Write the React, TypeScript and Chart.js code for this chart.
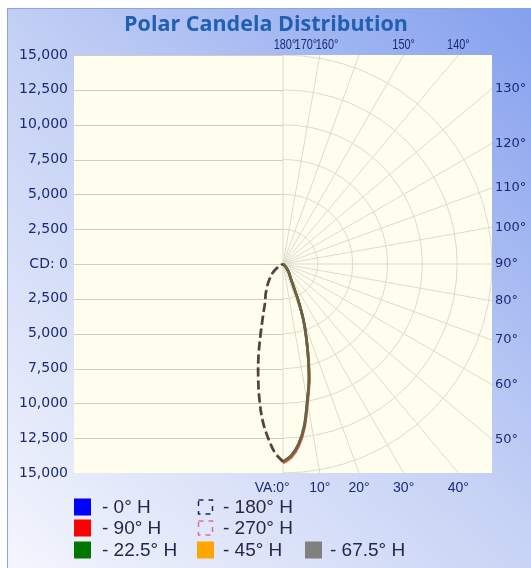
import React, { useEffect, useRef } from 'react';
import { Chart, registerables } from 'chart.js';

Chart.register(...registerables);

// ---- data ----
const chartTitle = 'Polar Candela Distribution';
const verticalAngles = [0, 2.5, 5, 7.5, 10, 12.5, 15, 17.5, 20, 22.5, 25, 27.5, 30, 35, 40, 45, 50, 55, 60, 65, 70];
const cd0H = [14200, 13750, 12950, 11700, 10000, 8600, 7000, 5550, 4300, 2950, 1800, 1250, 1000, 700, 400, 200, 0, 0, 0, 0, 0];
const cd90H = [14300, 13900, 13100, 11850, 10150, 8700, 7100, 5600, 4320, 2960, 1800, 1250, 1000, 700, 400, 200, 0, 0, 0, 0, 0];
const cd22H = [14200, 13760, 12960, 11710, 10020, 8610, 7010, 5560, 4300, 2950, 1800, 1250, 1000, 700, 400, 200, 0, 0, 0, 0, 0];
const cd45H = [14220, 13780, 12980, 11730, 10040, 8630, 7020, 5560, 4310, 2950, 1800, 1250, 1000, 700, 400, 200, 0, 0, 0, 0, 0];
const cd67H = [14180, 13740, 12940, 11690, 9990, 8590, 6990, 5540, 4290, 2940, 1790, 1240, 990, 690, 390, 190, 0, 0, 0, 0, 0];
const cd180H = [14200, 13550, 12500, 11300, 9800, 8250, 6800, 5400, 4350, 3600, 3050, 2750, 2500, 2000, 1600, 1250, 950, 600, 300, 0, 0];
const cd270H = [14150, 13500, 12450, 11250, 9750, 8200, 6750, 5350, 4300, 3550, 3000, 2700, 2450, 1950, 1550, 1200, 900, 550, 250, 0, 0];
const cdMax = 15000;
const cdStep = 2500;
const angleTicks = [0, 10, 20, 30, 40, 50, 60, 70, 80, 90, 100, 110, 120, 130, 140, 150, 160, 170, 180];

type Series = { name: string; values: number[]; side: number; color: string; line: string; dashed: boolean };
const series: Series[] = [
  { name: '0° H', values: cd0H, side: 1, color: '#0000ff', line: 'rgba(0,0,255,0.45)', dashed: false },
  { name: '180° H', values: cd180H, side: -1, color: '#1c2460', line: 'rgba(50,52,40,0.85)', dashed: true },
  { name: '90° H', values: cd90H, side: 1, color: '#ff0000', line: 'rgba(235,30,30,0.75)', dashed: false },
  { name: '270° H', values: cd270H, side: -1, color: '#e0708a', line: 'rgba(200,90,110,0.55)', dashed: true },
  { name: '22.5° H', values: cd22H, side: 1, color: '#007800', line: 'rgba(0,110,0,0.55)', dashed: false },
  { name: '45° H', values: cd45H, side: 1, color: '#ffa500', line: 'rgba(230,150,0,0.5)', dashed: false },
  { name: '67.5° H', values: cd67H, side: 1, color: '#808080', line: 'rgba(90,90,80,0.7)', dashed: false },
];
// drawing order: first dataset ends up on top
const drawOrder = ['67.5° H', '180° H', '45° H', '22.5° H', '0° H', '270° H', '90° H'];

const toXY = (s: Series) =>
  verticalAngles.map((a, i) => {
    const r = (a * Math.PI) / 180;
    return { x: s.side * s.values[i] * Math.sin(r), y: -s.values[i] * Math.cos(r) };
  });

const labelColor = '#1a2a78';
const gridColor = '#dddbcc';
const hGridColor = '#cdcdc4';

const decorPlugin = {
  id: 'polarDecor',
  beforeDraw(chart: any) {
    const { ctx, width, height, chartArea: ca } = chart;
    const xs = chart.scales.x;
    const ys = chart.scales.y;
    ctx.save();
    const g = ctx.createLinearGradient(0, height, width, 0);
    g.addColorStop(0, '#f4f6fd');
    g.addColorStop(0.5, '#c6d2f5');
    g.addColorStop(1, '#84a0ee');
    ctx.fillStyle = g;
    ctx.fillRect(0, 0, width, height);
    ctx.strokeStyle = '#8ea3e2';
    ctx.lineWidth = 1;
    ctx.beginPath();
    ctx.moveTo(0.5, height);
    ctx.lineTo(0.5, 0.5);
    ctx.lineTo(width, 0.5);
    ctx.stroke();

    ctx.fillStyle = '#fffeee';
    ctx.fillRect(ca.left, ca.top, ca.right - ca.left, ca.bottom - ca.top);

    const cx = xs.getPixelForValue(0);
    const cy = ys.getPixelForValue(0);
    ctx.beginPath();
    ctx.rect(ca.left, ca.top, ca.right - ca.left, ca.bottom - ca.top);
    ctx.clip();
    ctx.lineWidth = 1;
    // left half: horizontal lines
    ctx.strokeStyle = hGridColor;
    ctx.beginPath();
    for (const t of ys.ticks) {
      const py = Math.round(ys.getPixelForValue(t.value)) + 0.5;
      ctx.moveTo(ca.left, py);
      ctx.lineTo(cx, py);
    }
    ctx.stroke();
    // right half: rings
    ctx.strokeStyle = gridColor;
    for (const t of ys.ticks) {
      if (t.value <= 0) continue;
      const r = cy - ys.getPixelForValue(t.value);
      ctx.beginPath();
      ctx.arc(cx, cy, r, -Math.PI / 2, Math.PI / 2);
      ctx.stroke();
    }
    // radials
    ctx.beginPath();
    for (const a of angleTicks) {
      const rad = (a * Math.PI) / 180;
      ctx.moveTo(cx, cy);
      ctx.lineTo(cx + Math.sin(rad) * 1000, cy + Math.cos(rad) * 1000);
    }
    ctx.stroke();
    ctx.restore();
  },
  afterDraw(chart: any) {
    const { ctx, chartArea: ca } = chart;
    const xs = chart.scales.x;
    const ys = chart.scales.y;
    const cx = xs.getPixelForValue(0);
    const cy = ys.getPixelForValue(0);
    ctx.save();
    // title
    ctx.font = "bold 21.5px 'Open Sans'";
    ctx.fillStyle = '#2160b0';
    ctx.textAlign = 'center';
    ctx.textBaseline = 'alphabetic';
    ctx.fillText(chartTitle, 259, 23);

    // angle labels
    const topNudge: Record<number, number> = { 180: 2, 170: -14, 160: -32 };
    ctx.fillStyle = labelColor;
    ctx.textBaseline = 'middle';
    for (const a of angleTicks) {
      const rad = (a * Math.PI) / 180;
      const dx = Math.sin(rad);
      const dy = Math.cos(rad);
      let t = Infinity;
      let edge = '';
      if (dx > 1e-9) { const tt = (ca.right - cx) / dx; if (tt < t) { t = tt; edge = 'right'; } }
      if (dy > 1e-9) { const tt = (ca.bottom - cy) / dy; if (tt < t) { t = tt; edge = 'bottom'; } }
      if (dy < -1e-9) { const tt = (ca.top - cy) / dy; if (tt < t) { t = tt; edge = 'top'; } }
      const px = cx + dx * t;
      const py = cy + dy * t;
      const txt = `${a}°`;
      if (edge === 'right') {
        ctx.font = "13px 'DejaVu Sans'";
        ctx.textAlign = 'left';
        ctx.fillText(txt, ca.right + 3, py);
      } else if (edge === 'bottom') {
        ctx.font = "14px 'Liberation Sans'";
        ctx.textAlign = 'center';
        ctx.fillText(txt, px, ca.bottom + 15);
        if (a === 0) {
          const w = ctx.measureText(txt).width;
          ctx.textAlign = 'right';
          ctx.fillText('VA:', px - w / 2, ca.bottom + 15);
        }
      } else {
        ctx.font = "14px 'Liberation Sans'";
        ctx.textAlign = 'center';
        ctx.save();
        ctx.translate(px + (topNudge[a] || 0), ca.top - 10);
        ctx.scale(0.78, 1);
        ctx.fillText(txt, 0, 0);
        ctx.restore();
      }
    }

    // legend
    const rows = [499, 520, 542];
    const iconX = [67, 190, 298];
    const textX = [95, 216, 323];
    const layout: [string, number, number][] = [
      ['0° H', 0, 0], ['180° H', 0, 1],
      ['90° H', 1, 0], ['270° H', 1, 1],
      ['22.5° H', 2, 0], ['45° H', 2, 1], ['67.5° H', 2, 2],
    ];
    ctx.font = "19px 'Liberation Sans'";
    ctx.textAlign = 'left';
    ctx.textBaseline = 'middle';
    for (const [name, r, c] of layout) {
      const s = series.find((q) => q.name === name)!;
      const y = rows[r];
      const x = iconX[c];
      if (s.dashed) {
        ctx.strokeStyle = s.color;
        ctx.lineWidth = 1.5;
        ctx.setLineDash([5, 5]);
        ctx.strokeRect(x + 1.5, y - 7, 14, 14);
        ctx.setLineDash([]);
      } else {
        ctx.fillStyle = s.color;
        ctx.fillRect(x, y - 8.5, 17, 17);
      }
      ctx.fillStyle = '#26264a';
      ctx.fillText('- ' + name, textX[c], y + 1);
    }
    ctx.restore();
  },
};

export default function App() {
  const ref = useRef<HTMLCanvasElement>(null);
  useEffect(() => {
    const datasets = drawOrder.map((n) => {
      const s = series.find((q) => q.name === n)!;
      return {
        label: s.name,
        data: toXY(s),
        showLine: true,
        borderColor: s.line,
        backgroundColor: s.color,
        borderWidth: 2.6,
        borderDash: s.dashed ? [9, 4] : [],
        pointRadius: 0,
        tension: 0.35,
        fill: false,
      };
    });
    const chart = new Chart(ref.current!, {
      type: 'scatter',
      data: { datasets },
      options: {
        animation: false,
        responsive: false,
        devicePixelRatio: 1,
        layout: { padding: { left: 0, top: 47, right: 39, bottom: 95 } },
        plugins: { legend: { display: false }, title: { display: false }, tooltip: { enabled: false } },
        scales: {
          x: { type: 'linear', min: -cdMax, max: cdMax, display: false },
          y: {
            type: 'linear',
            min: -cdMax,
            max: cdMax,
            afterFit: (scale: any) => { scale.width = 67; },
            border: { display: false },
            grid: { display: false, drawTicks: false },
            ticks: {
              stepSize: cdStep,
              autoSkip: false,
              padding: 6,
              color: labelColor,
              font: { family: 'DejaVu Sans', size: 14 },
              callback: (v: any) => (v === 0 ? 'CD: 0' : Math.abs(v).toLocaleString('en-US')),
            },
          },
        },
      },
      plugins: [decorPlugin],
    } as any);
    return () => chart.destroy();
  }, []);
  return (
    <div style={{ position: 'fixed', left: 7, top: 8, width: 524, height: 560 }}>
      <canvas ref={ref} width={524} height={560} style={{ width: 524, height: 560, display: 'block' }} />
    </div>
  );
}
